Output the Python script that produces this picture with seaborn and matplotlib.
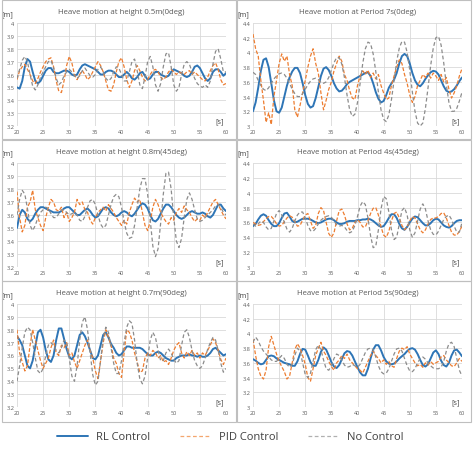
import numpy as np
import pandas as pd
import matplotlib
matplotlib.use('Agg')
import matplotlib.pyplot as plt
import seaborn as sns

# time axis [s]
t = np.arange(20, 60.01, 0.5)

titles = ['Heave motion at height 0.5m(0deg)', 'Heave motion at Period 7s(0deg)',
          'Heave motion at height 0.8m(45deg)', 'Heave motion at Period 4s(45deg)',
          'Heave motion at height 0.7m(90deg)', 'Heave motion at Period 5s(90deg)']
labels = ['RL Control', 'PID Control', 'No Control']

# ---- height 0.5m (0deg)
rl_h05 = [3.50, 3.49, 3.55, 3.66, 3.72, 3.70, 3.62, 3.55, 3.53, 3.55, 3.59, 3.63, 3.65, 3.65, 3.62, 3.61,
          3.61, 3.62, 3.63, 3.63, 3.62, 3.60, 3.59, 3.60, 3.64, 3.67, 3.68, 3.67, 3.66, 3.65, 3.64, 3.62,
          3.60, 3.60, 3.62, 3.63, 3.63, 3.62, 3.60, 3.58, 3.58, 3.60, 3.62, 3.60, 3.57, 3.56, 3.58, 3.61,
          3.62, 3.59, 3.56, 3.57, 3.60, 3.62, 3.62, 3.60, 3.59, 3.58, 3.59, 3.62, 3.64, 3.63, 3.62, 3.61,
          3.59, 3.58, 3.59, 3.62, 3.66, 3.67, 3.65, 3.61, 3.57, 3.55, 3.57, 3.62, 3.64, 3.64, 3.62, 3.59, 3.61]
pid_h05 = [3.56, 3.63, 3.66, 3.68, 3.64, 3.60, 3.55, 3.53, 3.57, 3.62, 3.66, 3.70, 3.72, 3.73, 3.66, 3.55,
           3.47, 3.46, 3.55, 3.67, 3.74, 3.69, 3.60, 3.56, 3.60, 3.63, 3.60, 3.56, 3.58, 3.62, 3.66, 3.70,
           3.67, 3.62, 3.55, 3.48, 3.47, 3.52, 3.62, 3.70, 3.73, 3.66, 3.56, 3.50, 3.55, 3.63, 3.67, 3.63,
           3.58, 3.55, 3.56, 3.60, 3.63, 3.64, 3.62, 3.58, 3.56, 3.58, 3.62, 3.64, 3.62, 3.60, 3.62, 3.61,
           3.60, 3.62, 3.63, 3.60, 3.62, 3.60, 3.58, 3.56, 3.55, 3.58, 3.63, 3.67, 3.69, 3.64, 3.56, 3.52, 3.53]
no_h05 = [3.57, 3.64, 3.71, 3.74, 3.70, 3.60, 3.51, 3.48, 3.52, 3.58, 3.62, 3.66, 3.70, 3.71, 3.65, 3.57,
          3.52, 3.54, 3.59, 3.62, 3.64, 3.62, 3.59, 3.57, 3.59, 3.63, 3.65, 3.62, 3.59, 3.58, 3.60, 3.64,
          3.66, 3.62, 3.57, 3.55, 3.57, 3.62, 3.66, 3.65, 3.60, 3.55, 3.55, 3.62, 3.70, 3.72, 3.63, 3.52,
          3.49, 3.58, 3.70, 3.74, 3.66, 3.52, 3.47, 3.53, 3.66, 3.76, 3.77, 3.66, 3.52, 3.47, 3.50, 3.60,
          3.68, 3.70, 3.68, 3.62, 3.57, 3.53, 3.51, 3.50, 3.52, 3.50, 3.55, 3.68, 3.78, 3.80, 3.72, 3.62, 3.62]

# ---- period 7s (0deg)
rl_p7 = [3.20, 3.32, 3.52, 3.75, 3.90, 3.92, 3.80, 3.58, 3.35, 3.20, 3.18, 3.25, 3.40, 3.55, 3.66, 3.74,
         3.79, 3.79, 3.72, 3.58, 3.42, 3.30, 3.25, 3.27, 3.38, 3.53, 3.68, 3.78, 3.80, 3.76, 3.68, 3.58,
         3.51, 3.47, 3.48, 3.52, 3.57, 3.60, 3.62, 3.64, 3.66, 3.68, 3.70, 3.72, 3.73, 3.68, 3.58, 3.46,
         3.37, 3.32, 3.34, 3.42, 3.52, 3.58, 3.63, 3.72, 3.85, 3.95, 3.98, 3.95, 3.85, 3.72, 3.62, 3.56,
         3.54, 3.58, 3.64, 3.69, 3.73, 3.75, 3.74, 3.70, 3.62, 3.54, 3.48, 3.46, 3.47, 3.50, 3.55, 3.61, 3.66]
pid_p7 = [4.25, 4.05, 3.95, 3.62, 3.35, 3.05, 3.18, 3.02, 3.40, 3.62, 3.85, 3.98, 3.88, 3.95, 3.70, 3.55,
          3.22, 3.12, 3.28, 3.45, 3.62, 3.80, 3.95, 4.05, 3.85, 3.72, 3.45, 3.22, 3.35, 3.50, 3.60, 3.75,
          3.85, 3.95, 3.88, 3.70, 3.62, 3.48, 3.38, 3.36, 3.55, 3.68, 3.75, 3.70, 3.76, 3.66, 3.72, 3.64,
          3.70, 3.55, 3.45, 3.36, 3.38, 3.55, 3.68, 3.80, 3.90, 3.85, 3.70, 3.58, 3.42, 3.32, 3.40, 3.55,
          3.62, 3.70, 3.66, 3.72, 3.65, 3.72, 3.68, 3.62, 3.70, 3.60, 3.66, 3.50, 3.38, 3.45, 3.55, 3.68, 3.78]
no_p7 = [3.73, 3.70, 3.62, 3.55, 3.50, 3.48, 3.52, 3.58, 3.64, 3.68, 3.71, 3.72, 3.70, 3.65, 3.58, 3.50,
         3.44, 3.40, 3.40, 3.44, 3.50, 3.56, 3.61, 3.64, 3.65, 3.63, 3.60, 3.58, 3.60, 3.66, 3.76, 3.86,
         3.93, 3.93, 3.84, 3.66, 3.42, 3.22, 3.13, 3.16, 3.32, 3.58, 3.85, 4.05, 4.14, 4.12, 3.98, 3.74,
         3.46, 3.22, 3.09, 3.06, 3.15, 3.36, 3.62, 3.88, 4.06, 4.15, 4.14, 4.00, 3.76, 3.46, 3.20, 3.04,
         3.00, 3.04, 3.24, 3.52, 3.82, 4.06, 4.20, 4.22, 4.10, 3.86, 3.56, 3.32, 3.20, 3.20, 3.24, 3.34, 3.46]

# ---- height 0.8m (45deg)
rl_h08 = [3.50, 3.60, 3.64, 3.62, 3.57, 3.55, 3.57, 3.61, 3.64, 3.66, 3.66, 3.65, 3.64, 3.63, 3.62, 3.62,
          3.62, 3.63, 3.65, 3.66, 3.66, 3.64, 3.62, 3.60, 3.60, 3.62, 3.64, 3.65, 3.63, 3.60, 3.58, 3.59,
          3.62, 3.65, 3.66, 3.65, 3.62, 3.60, 3.59, 3.60, 3.62, 3.63, 3.62, 3.60, 3.59, 3.61, 3.64, 3.67,
          3.69, 3.68, 3.65, 3.60, 3.56, 3.55, 3.57, 3.61, 3.65, 3.68, 3.68, 3.66, 3.63, 3.60, 3.58, 3.57,
          3.58, 3.60, 3.62, 3.63, 3.62, 3.61, 3.61, 3.62, 3.61, 3.59, 3.58, 3.60, 3.64, 3.68, 3.68, 3.65, 3.63]
pid_h08 = [3.78, 3.58, 3.47, 3.52, 3.66, 3.70, 3.79, 3.64, 3.58, 3.52, 3.48, 3.58, 3.66, 3.72, 3.70, 3.64,
           3.63, 3.66, 3.58, 3.62, 3.55, 3.58, 3.62, 3.72, 3.68, 3.70, 3.64, 3.62, 3.56, 3.53, 3.58, 3.62,
           3.64, 3.66, 3.63, 3.68, 3.65, 3.62, 3.58, 3.55, 3.52, 3.56, 3.53, 3.62, 3.68, 3.73, 3.70, 3.72,
           3.62, 3.52, 3.48, 3.55, 3.66, 3.72, 3.68, 3.62, 3.58, 3.55, 3.53, 3.58, 3.56, 3.62, 3.65, 3.62,
           3.67, 3.64, 3.62, 3.58, 3.55, 3.57, 3.56, 3.60, 3.58, 3.62, 3.66, 3.70, 3.72, 3.68, 3.64, 3.60, 3.57]
no_h08 = [3.60, 3.72, 3.79, 3.76, 3.65, 3.52, 3.48, 3.52, 3.58, 3.62, 3.64, 3.66, 3.65, 3.61, 3.58, 3.58,
          3.61, 3.64, 3.64, 3.62, 3.60, 3.61, 3.62, 3.60, 3.56, 3.55, 3.59, 3.66, 3.71, 3.72, 3.68, 3.60,
          3.53, 3.50, 3.52, 3.60, 3.68, 3.74, 3.76, 3.74, 3.66, 3.55, 3.46, 3.42, 3.43, 3.52, 3.66, 3.80,
          3.88, 3.88, 3.76, 3.56, 3.36, 3.28, 3.34, 3.54, 3.76, 3.92, 3.93, 3.80, 3.58, 3.40, 3.35, 3.42,
          3.58, 3.72, 3.77, 3.72, 3.64, 3.57, 3.55, 3.56, 3.58, 3.60, 3.62, 3.64, 3.67, 3.68, 3.66, 3.62, 3.60]

# ---- period 4s (45deg)
rl_p4 = [3.55, 3.58, 3.64, 3.69, 3.71, 3.69, 3.63, 3.58, 3.55, 3.55, 3.59, 3.66, 3.72, 3.73, 3.68, 3.62,
         3.60, 3.61, 3.63, 3.65, 3.65, 3.65, 3.64, 3.62, 3.60, 3.59, 3.60, 3.62, 3.64, 3.65, 3.65, 3.63,
         3.60, 3.58, 3.58, 3.59, 3.61, 3.62, 3.62, 3.62, 3.63, 3.63, 3.64, 3.64, 3.65, 3.64, 3.62, 3.59,
         3.56, 3.54, 3.55, 3.60, 3.66, 3.71, 3.71, 3.66, 3.58, 3.52, 3.50, 3.54, 3.60, 3.65, 3.68, 3.67,
         3.63, 3.59, 3.56, 3.56, 3.59, 3.63, 3.65, 3.64, 3.60, 3.56, 3.54, 3.53, 3.55, 3.59, 3.62, 3.63, 3.63]
pid_p4 = [3.60, 3.58, 3.56, 3.57, 3.61, 3.65, 3.68, 3.68, 3.64, 3.58, 3.55, 3.56, 3.61, 3.66, 3.69, 3.67,
          3.61, 3.55, 3.56, 3.63, 3.70, 3.72, 3.62, 3.52, 3.56, 3.72, 3.80, 3.76, 3.60, 3.45, 3.40, 3.46,
          3.62, 3.76, 3.78, 3.70, 3.58, 3.50, 3.52, 3.60, 3.64, 3.60, 3.54, 3.54, 3.62, 3.72, 3.79, 3.80,
          3.70, 3.54, 3.43, 3.40, 3.48, 3.62, 3.72, 3.74, 3.66, 3.56, 3.50, 3.54, 3.62, 3.68, 3.66, 3.58,
          3.50, 3.46, 3.50, 3.58, 3.64, 3.66, 3.66, 3.68, 3.72, 3.73, 3.66, 3.56, 3.47, 3.43, 3.43, 3.48, 3.55]
no_p4 = [3.58, 3.55, 3.58, 3.62, 3.60, 3.54, 3.50, 3.52, 3.62, 3.72, 3.76, 3.70, 3.60, 3.51, 3.47, 3.52,
         3.62, 3.70, 3.74, 3.74, 3.66, 3.56, 3.49, 3.48, 3.52, 3.58, 3.63, 3.66, 3.68, 3.69, 3.67, 3.62,
         3.57, 3.55, 3.56, 3.54, 3.49, 3.46, 3.48, 3.56, 3.68, 3.82, 3.88, 3.84, 3.66, 3.42, 3.26, 3.28,
         3.50, 3.78, 3.95, 3.92, 3.74, 3.50, 3.37, 3.40, 3.58, 3.76, 3.80, 3.70, 3.50, 3.40, 3.46, 3.62,
         3.78, 3.85, 3.78, 3.62, 3.50, 3.44, 3.43, 3.48, 3.56, 3.64, 3.68, 3.70, 3.64, 3.55, 3.47, 3.47, 3.60]

# ---- height 0.7m (90deg)
rl_h07 = [3.75, 3.72, 3.68, 3.60, 3.52, 3.50, 3.56, 3.67, 3.78, 3.80, 3.74, 3.64, 3.57, 3.55, 3.60, 3.72,
          3.81, 3.81, 3.73, 3.65, 3.59, 3.57, 3.60, 3.68, 3.76, 3.78, 3.75, 3.70, 3.64, 3.58, 3.57, 3.60,
          3.68, 3.76, 3.78, 3.74, 3.69, 3.66, 3.62, 3.60, 3.61, 3.64, 3.67, 3.67, 3.66, 3.66, 3.66, 3.66,
          3.65, 3.63, 3.61, 3.60, 3.60, 3.62, 3.63, 3.62, 3.60, 3.58, 3.57, 3.56, 3.56, 3.58, 3.59, 3.60,
          3.60, 3.60, 3.61, 3.60, 3.60, 3.59, 3.60, 3.59, 3.59, 3.60, 3.62, 3.65, 3.66, 3.64, 3.62, 3.60, 3.61]
pid_h07 = [3.80, 3.62, 3.55, 3.48, 3.52, 3.68, 3.80, 3.72, 3.64, 3.56, 3.50, 3.54, 3.58, 3.66, 3.72, 3.62,
           3.60, 3.68, 3.66, 3.70, 3.60, 3.62, 3.55, 3.50, 3.56, 3.62, 3.68, 3.72, 3.64, 3.58, 3.48, 3.42,
           3.56, 3.70, 3.80, 3.74, 3.68, 3.58, 3.54, 3.46, 3.43, 3.62, 3.80, 3.78, 3.72, 3.62, 3.55, 3.47,
           3.48, 3.58, 3.62, 3.60, 3.64, 3.62, 3.58, 3.60, 3.55, 3.56, 3.53, 3.58, 3.64, 3.68, 3.70, 3.62,
           3.58, 3.63, 3.60, 3.64, 3.60, 3.62, 3.58, 3.62, 3.60, 3.64, 3.68, 3.73, 3.70, 3.64, 3.57, 3.53, 3.58]
no_h07 = [3.40, 3.52, 3.66, 3.78, 3.82, 3.80, 3.70, 3.58, 3.48, 3.46, 3.50, 3.60, 3.68, 3.70, 3.68, 3.64,
          3.62, 3.66, 3.72, 3.70, 3.58, 3.44, 3.40, 3.52, 3.72, 3.86, 3.90, 3.80, 3.62, 3.45, 3.37, 3.40,
          3.56, 3.74, 3.82, 3.78, 3.66, 3.54, 3.46, 3.46, 3.56, 3.70, 3.82, 3.87, 3.85, 3.72, 3.54, 3.42,
          3.38, 3.44, 3.58, 3.72, 3.78, 3.74, 3.64, 3.56, 3.56, 3.62, 3.65, 3.62, 3.57, 3.54, 3.56, 3.68,
          3.78, 3.80, 3.74, 3.64, 3.56, 3.52, 3.50, 3.52, 3.58, 3.65, 3.70, 3.74, 3.72, 3.64, 3.54, 3.47, 3.50]

# ---- period 5s (90deg)
rl_p5 = [3.65, 3.63, 3.60, 3.58, 3.59, 3.64, 3.69, 3.70, 3.69, 3.66, 3.64, 3.62, 3.60, 3.59, 3.58, 3.56,
         3.56, 3.62, 3.72, 3.79, 3.78, 3.70, 3.61, 3.56, 3.56, 3.64, 3.75, 3.81, 3.78, 3.70, 3.61, 3.55,
         3.53, 3.57, 3.65, 3.73, 3.76, 3.75, 3.70, 3.62, 3.54, 3.47, 3.43, 3.43, 3.52, 3.66, 3.78, 3.84,
         3.84, 3.77, 3.68, 3.62, 3.59, 3.58, 3.59, 3.62, 3.66, 3.69, 3.72, 3.76, 3.79, 3.80, 3.78, 3.72,
         3.64, 3.57, 3.55, 3.58, 3.66, 3.74, 3.77, 3.72, 3.63, 3.57, 3.55, 3.60, 3.70, 3.77, 3.78, 3.74, 3.69]
pid_p5 = [3.92, 3.70, 3.52, 3.42, 3.38, 3.50, 3.82, 3.96, 3.84, 3.72, 3.62, 3.55, 3.48, 3.38, 3.42, 3.60,
          3.78, 3.86, 3.80, 3.70, 3.58, 3.40, 3.35, 3.52, 3.70, 3.80, 3.88, 3.76, 3.70, 3.62, 3.55, 3.50,
          3.60, 3.64, 3.70, 3.66, 3.72, 3.64, 3.60, 3.56, 3.52, 3.50, 3.46, 3.54, 3.62, 3.70, 3.76, 3.70,
          3.66, 3.60, 3.64, 3.58, 3.62, 3.56, 3.54, 3.66, 3.76, 3.80, 3.78, 3.82, 3.72, 3.66, 3.60, 3.56,
          3.58, 3.54, 3.60, 3.57, 3.62, 3.58, 3.60, 3.62, 3.68, 3.70, 3.64, 3.60, 3.56, 3.55, 3.60, 3.66, 3.62]
no_p5 = [3.88, 3.95, 3.90, 3.82, 3.76, 3.72, 3.68, 3.64, 3.62, 3.62, 3.66, 3.70, 3.66, 3.58, 3.54, 3.58,
         3.70, 3.80, 3.76, 3.60, 3.44, 3.40, 3.46, 3.62, 3.78, 3.84, 3.78, 3.64, 3.52, 3.50, 3.56, 3.66,
         3.72, 3.70, 3.64, 3.57, 3.54, 3.55, 3.58, 3.56, 3.54, 3.58, 3.66, 3.74, 3.79, 3.80, 3.78, 3.68,
         3.56, 3.48, 3.45, 3.46, 3.52, 3.62, 3.72, 3.79, 3.80, 3.76, 3.66, 3.56, 3.49, 3.48, 3.52, 3.60,
         3.66, 3.68, 3.65, 3.60, 3.56, 3.53, 3.52, 3.52, 3.54, 3.62, 3.76, 3.86, 3.88, 3.82, 3.66, 3.50, 3.42]

series = [(rl_h05, pid_h05, no_h05), (rl_p7, pid_p7, no_p7),
          (rl_h08, pid_h08, no_h08), (rl_p4, pid_p4, no_p4),
          (rl_h07, pid_h07, no_h07), (rl_p5, pid_p5, no_p5)]
ylims = [(3.2, 4.0, 0.1), (3.0, 4.4, 0.2)] * 3

sns.set_style('white')
plt.rcParams['font.family'] = ['Open Sans', 'DejaVu Sans']

colors = ['#2e75b6', '#ed7d31', '#8c8c8c']
W, H = 474, 452
fig = plt.figure(figsize=(W / 100, H / 100), dpi=100)

# plot-area boxes in pixels (left, top, right, bottom)
lefts = [17, 253]
rows = [(24, 127), (164, 268), (305, 408)]
borders_x = [(2, 236), (237, 471)]
borders_y = [(1, 140), (141, 282), (282, 423)]

for i in range(6):
    r, c = divmod(i, 2)
    x0 = lefts[c]
    x1 = x0 + 209
    y0, y1 = rows[r]
    ax = fig.add_axes([x0 / W, 1 - y1 / H, (x1 - x0) / W, (y1 - y0) / H])
    rl, pid, nc = series[i]
    df = pd.DataFrame({'t': t, 'rl': rl, 'pid': pid, 'nc': nc})
    sns.lineplot(data=df, x='t', y='rl', ax=ax, color=colors[0], lw=1.4)
    sns.lineplot(data=df, x='t', y='pid', ax=ax, color=colors[1], lw=0.9, dashes=(3, 1.5))
    sns.lineplot(data=df, x='t', y='nc', ax=ax, color=colors[2], lw=0.9, dashes=(3, 2))
    lo, hi, st = ylims[i]
    ax.set_xlim(20, 60)
    ax.set_ylim(lo, hi)
    ax.set_xticks(np.arange(20, 61, 5))
    yt = np.round(np.arange(lo, hi + st / 2, st), 2)
    ax.set_yticks(yt)
    ax.set_yticklabels(['{:g}'.format(v) for v in yt])
    ax.grid(True, color='#d9d9d9', lw=0.6)
    for s in ax.spines.values():
        s.set_visible(False)
    ax.tick_params(length=0, labelsize=4, colors='#595959', pad=2)
    ax.set_xlabel('')
    ax.set_ylabel('')
    ax.set_title(titles[i], fontsize=5.6, color='#595959', pad=7)
    ax.text(-0.045, 1.06, '[m]', transform=ax.transAxes, fontsize=5.2, color='#404040', ha='center', va='bottom')
    ax.text(0.99, 0.02, '[s]', transform=ax.transAxes, fontsize=5.2, color='#404040', ha='right', va='bottom')
    # chart border
    bx0, bx1 = borders_x[c]
    by0, by1 = borders_y[r]
    fig.patches.append(plt.Rectangle((bx0 / W, 1 - by1 / H), (bx1 - bx0) / W, (by1 - by0) / H,
                                     transform=fig.transFigure, fill=False, ec='#bfbfbf', lw=0.8))

# legend handles styled like the legend of the reference
handles = [plt.Line2D([], [], color=colors[0], lw=1.4),
           plt.Line2D([], [], color='#f4a66e', lw=0.9, dashes=(3, 2)),
           plt.Line2D([], [], color='#b0b0b0', lw=0.9, dashes=(3, 2))]
fig.legend(handles, labels, loc='center', bbox_to_anchor=(230 / W, 1 - 438 / H), ncol=3, frameon=False,
           fontsize=8, handlelength=2.8, columnspacing=2.7, handletextpad=0.7, labelcolor='#404040')

fig.savefig('out.png', dpi=100)
